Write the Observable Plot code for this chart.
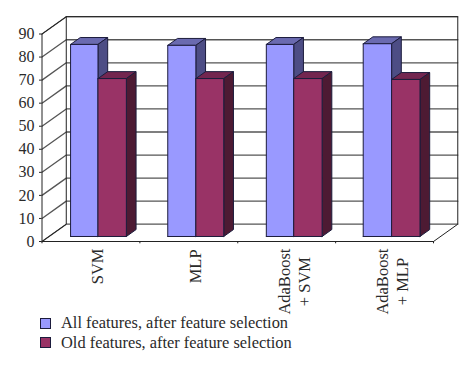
<!DOCTYPE html>
<html>
<head>
<meta charset="utf-8">
<script src="https://cdn.jsdelivr.net/npm/d3@7"></script>
<script src="https://cdn.jsdelivr.net/npm/@observablehq/plot@0.6"></script>
<style>
html,body{margin:0;padding:0;background:#fff;}
#legend{font-family:"Liberation Serif",serif;font-size:16.4px;color:#2a2a2a;padding-left:39.5px;margin-top:-0.5px;}
.row{display:flex;align-items:center;height:19.5px;}
.sw{width:9px;height:9px;border:1px solid #1c1c3c;margin-right:10.5px;}
</style>
</head>
<body>
<div id="chart"></div>
<div id="legend"></div>
<script>
const categories = ["SVM", "MLP", "AdaBoost\n+ SVM", "AdaBoost\n+ MLP"];
const allFeatures = [83.3, 82.9, 83.3, 83.6];
const oldFeatures = [68.5, 68.5, 68.5, 68.1];
const seriesNames = ["All features, after feature selection", "Old features, after feature selection"];
const seriesColors = ["#9999ff", "#993366"];
const topColors = ["#6a6ab0", "#732650"];
const sideColors = ["#4d4d85", "#4d1a33"];
const yTicks = [0, 10, 20, 30, 40, 50, 60, 70, 80, 90];

// Oblique projection of depth, expressed in data units
const depthX = 0.248, depthY = 7.5;
const proj = (c, v, d) => ({x: c + d * depthX, y: v + d * depthY});
const barD0 = 0.29, barD1 = 0.69;
const starts = [[0.22, 0.5], [0.213, 0.5], [0.22, 0.5], [0.21, 0.5]];
const ends = [[0.5, 0.79], [0.5, 0.785], [0.5, 0.79], [0.5, 0.79]];

const faces = [];
let fid = 0;
function face(pts, fill) {
  const id = fid++;
  [...pts, pts[0]].forEach(p => faces.push({...p, id, fill}));
}
categories.forEach((_, i) => {
  [allFeatures, oldFeatures].forEach((s, k) => {
    const a = i + starts[i][k], b = i + ends[i][k], v = s[i];
    face([proj(a, v, barD0), proj(b, v, barD0), proj(b, v, barD1), proj(a, v, barD1)], topColors[k]);
    face([proj(b, 0, barD0), proj(b, v, barD0), proj(b, v, barD1), proj(b, 0, barD1)], sideColors[k]);
    face([proj(a, 0, barD0), proj(b, 0, barD0), proj(b, v, barD0), proj(a, v, barD0)], seriesColors[k]);
  });
});

const wallLines = [
  [proj(0, 90, 0), proj(0, 90, 1), proj(4, 90, 1), proj(4, 0, 1), proj(4, 0, 0), proj(0, 0, 0), proj(0, 90, 0)],
  [proj(0, 0, 0), proj(0, 0, 1), proj(0, 90, 1)]
].flatMap((l, id) => l.map(p => ({...p, id})));
const grid = yTicks.map(v => [
  {...proj(0, v, 0), id: v}, {...proj(0, v, 1), id: v}, {...proj(4, v, 1), id: v}
]).flat();

const labels = categories.map((c, i) => ({c, x: i + 0.57}));

const plot = Plot.plot({
  width: 474, height: 314,
  marginLeft: 41.5, marginRight: 41, marginTop: 33.5, marginBottom: 73,
  style: {fontFamily: "Liberation Serif, serif", fontSize: "16px", color: "#2a2a2a", background: "#fff", overflow: "visible"},
  x: {domain: [0, 4], axis: null},
  y: {domain: [0, 90], axis: null},
  color: {type: "identity"},
  marks: [
    Plot.line(grid, {x: "x", y: "y", z: "id", stroke: "#555", strokeWidth: 1.3}),
    Plot.line(wallLines, {x: "x", y: "y", z: "id", stroke: "#222", strokeWidth: 1}),
    Plot.ruleX([0, 1, 2, 3, 4], {x: d => d, y1: 0, y2: -1, stroke: "#222"}),
    Plot.axisY({ticks: yTicks, tickSize: 2.5, tickPadding: 5, stroke: "#222", tickFormat: d => d, label: null, marginLeft: 41.5}),
    Plot.line(faces, {x: "x", y: "y", z: "id", fill: "fill", stroke: "#1c1c3c", strokeWidth: 1, strokeLinejoin: "round"}),
    Plot.text(labels.filter(d => !d.c.includes("\n")), {x: "x", y: -10.8, text: "c", rotate: -90, textAnchor: "middle", fontSize: 16.5}),
    Plot.text(labels.filter(d => d.c.includes("\n")), {x: "x", y: -17.4, text: "c", rotate: -90, textAnchor: "middle", fontSize: 16.5, lineHeight: 1.25})
  ]
});
document.getElementById("chart").appendChild(plot);
plot.style.display = "block";

const lg = document.getElementById("legend");
seriesNames.forEach((n, i) => {
  const r = document.createElement("div");
  r.className = "row";
  const s = document.createElement("span");
  s.className = "sw";
  s.style.background = seriesColors[i];
  const t = document.createElement("span");
  t.textContent = n;
  r.append(s, t);
  lg.appendChild(r);
});
</script>
</body>
</html>
